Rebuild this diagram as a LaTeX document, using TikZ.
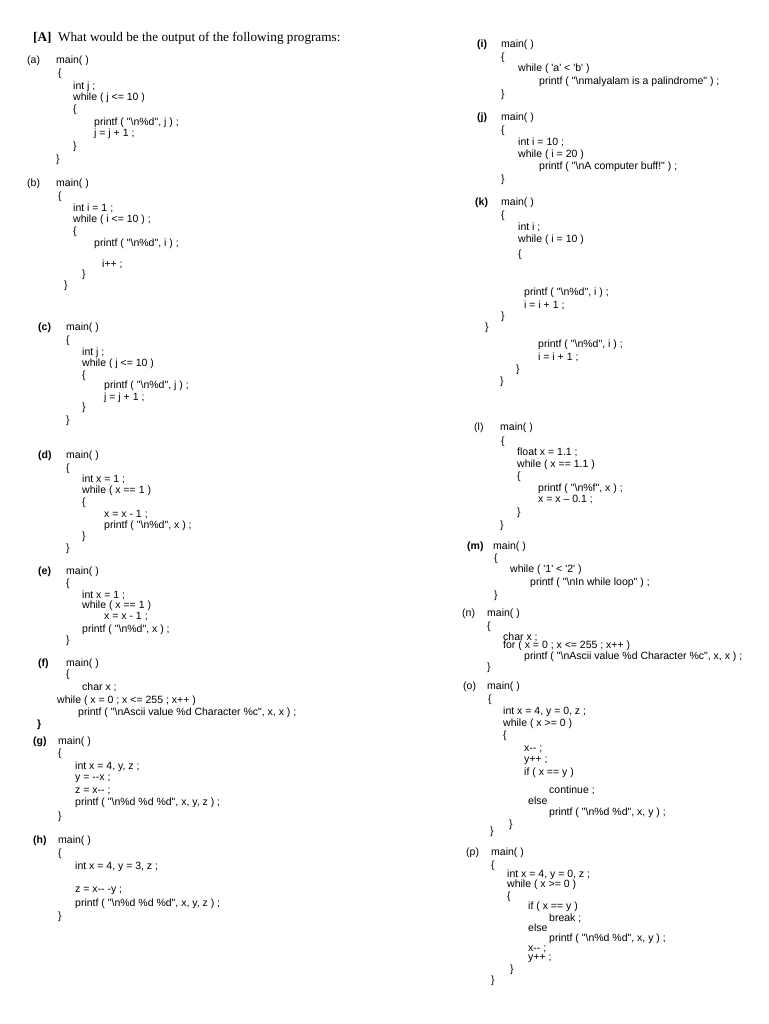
\documentclass[tikz,border=0pt]{standalone}
\usepackage{fontspec}
\newfontfamily\cf{Liberation Sans}
\newfontfamily\tf{Liberation Serif}
\newcounter{ln}
\tikzset{code/.style={anchor=west,inner sep=0pt,font=\cf\fontsize{10.5}{12}\selectfont}}
\newcommand\T[3]{\stepcounter{ln}\node[code] (t\arabic{ln}) at (#1,#2) {#3};}
\newcommand\B[3]{\stepcounter{ln}\node[code,font=\cf\bfseries\fontsize{10.5}{12}\selectfont] (t\arabic{ln}) at (#1,#2) {#3};}
\def\bs{\textbackslash}
\begin{document}
\begin{tikzpicture}[x=1pt,y=-1pt]
\useasboundingbox (0,0) rectangle (768,1024);
\fill[white] (0,0) rectangle (768,1024);
\node[anchor=west,inner sep=0pt,font=\tf\fontsize{13.2}{15}\selectfont] (title) at (33,38) {\textbf{[A]}\ \ What would be the output of the following programs:};
% (a)
\T{27}{61}{(a)}\T{56}{61}{main( )}
\T{58}{74}{\{}\T{73}{87}{int j ;}\T{73}{98}{while ( j <= 10 )}\T{73}{110}{\{}
\T{94}{123}{printf ( "\bs n\%d", j ) ;}\T{94}{134}{j = j + 1 ;}\T{73}{147}{\}}\T{56}{160}{\}}
% (b)
\T{27}{184}{(b)}\T{56}{184}{main( )}
\T{58}{197}{\{}\T{73}{208}{int i = 1 ;}\T{73}{220}{while ( i <= 10 ) ;}\T{73}{232}{\{}
\T{94}{244}{printf ( "\bs n\%d", i ) ;}\T{102}{264}{i++ ;}\T{82}{275}{\}}\T{64}{286}{\}}
% (c)
\B{38}{328}{(c)}\T{66}{328}{main( )}
\T{66}{341}{\{}\T{82}{353}{int j ;}\T{82}{364}{while ( j <= 10 )}\T{82}{376}{\{}
\T{104}{386}{printf ( "\bs n\%d", j ) ;}\T{104}{398}{j = j + 1 ;}\T{82}{408}{\}}\T{66}{421}{\}}
% (d)
\B{38}{456}{(d)}\T{66}{456}{main( )}
\T{66}{469}{\{}\T{82}{479}{int  x = 1 ;}\T{82}{491}{while ( x == 1 )}\T{82}{503}{\{}
\T{104}{515}{x = x - 1 ;}\T{104}{526}{printf ( "\bs n\%d", x ) ;}\T{82}{537}{\}}\T{66}{549}{\}}
% (e)
\B{38}{572}{(e)}\T{66}{572}{main( )}
\T{66}{584}{\{}\T{82}{595}{int  x = 1 ;}\T{82}{606}{while ( x == 1 )}
\T{104}{617}{x = x - 1 ;}\T{82}{630}{printf ( "\bs n\%d", x ) ;}\T{66}{641}{\}}
% (f)
\B{38}{664}{(f)}\T{66}{664}{main( )}
\T{66}{675}{\{}\T{82}{687}{char  x ;}\T{57}{701}{while ( x = 0 ; x <= 255 ; x++ )}
\T{78}{713}{printf ( "\bs nAscii value \%d Character \%c", x, x ) ;}\B{37}{725}{\}}
% (g)
\B{33}{742}{(g)}\T{58}{742}{main( )}
\T{58}{754}{\{}\T{75}{767}{int  x = 4, y, z ;}\T{75}{779}{y = --x ;}\T{75}{791}{z = x-- ;}
\T{75}{803}{printf ( "\bs n\%d \%d \%d", x, y, z ) ;}\T{58}{817}{\}}
% (h)
\B{33}{841}{(h)}\T{58}{841}{main( )}
\T{58}{854}{\{}\T{75}{867}{int  x = 4, y = 3, z ;}\T{75}{891}{z = x-- -y ;}
\T{75}{904}{printf ( "\bs n\%d \%d \%d", x, y, z ) ;}\T{58}{917}{\}}
% (i)
\B{477}{45}{(i)}\T{501}{45}{main( )}
\T{501}{58}{\{}\T{518}{69}{while ( 'a' < 'b' )}
\T{539}{82}{printf ( "\bs nmalyalam is a palindrome" ) ;}\T{501}{95}{\}}
% (j)
\B{477}{118}{(j)}\T{501}{118}{main( )}
\T{501}{131}{\{}\T{518}{142}{int  i = 10 ;}\T{518}{155}{while ( i = 20 )}
\T{539}{167}{printf ( "\bs nA computer buff!" ) ;}\T{501}{180}{\}}
% (k)
\B{475}{203}{(k)}\T{501}{203}{main( )}
\T{501}{216}{\{}\T{518}{227}{int  i ;}\T{518}{240}{while ( i = 10 )}\T{518}{255}{\{}
\T{524}{293}{printf ( "\bs n\%d", i ) ;}\T{524}{305}{i = i + 1 ;}\T{501}{317}{\}}\T{485}{328}{\}}
\T{538}{345}{printf ( "\bs n\%d", i ) ;}\T{538}{357}{i = i + 1 ;}\T{516}{370}{\}}\T{500}{382}{\}}
% (l)
\T{474}{428}{(l)}\T{500}{428}{main( )}
\T{501}{442}{\{}\T{517}{452}{float  x = 1.1 ;}\T{517}{465}{while ( x == 1.1 )}\T{517}{477}{\{}
\T{538}{489}{printf ( "\bs n\%f", x ) ;}\T{538}{500}{x = x \textendash\ 0.1 ;}\T{517}{513}{\}}\T{500}{526}{\}}
% (m)
\B{467}{547}{(m)}\T{493}{547}{main( )}
\T{494}{559}{\{}\T{510}{570}{while ( '1' < '2' )}
\T{530}{583}{printf ( "\bs nIn while loop" ) ;}\T{494}{596}{\}}
% (n)
\T{462}{614}{(n)}\T{487}{614}{main( )}
\T{487}{627}{\{}\T{503}{637}{char  x ;}\T{503}{646}{for ( x = 0 ; x <= 255 ; x++ )}
\T{524}{657}{printf ( "\bs nAscii value \%d Character \%c", x, x ) ;}\T{487}{668}{\}}
% (o)
\T{463}{687}{(o)}\T{487}{687}{main( )}
\T{488}{700}{\{}\T{503}{712}{int  x = 4, y = 0, z ;}\T{503}{724}{while ( x >= 0 )}\T{503}{736}{\{}
\T{524}{749}{x-- ;}\T{524}{761}{y++ ;}\T{524}{773}{if ( x == y )}
\T{549}{790}{continue ;}\T{528}{801}{else}\T{549}{813}{printf ( "\bs n\%d \%d", x, y ) ;}
\T{509}{825}{\}}\T{490}{832}{\}}
% (p)
\T{466}{853}{(p)}\T{491}{853}{main( )}
\T{491}{866}{\{}\T{507}{875}{int  x = 4, y = 0, z ;}\T{507}{885}{while ( x >= 0 )}\T{507}{897}{\{}
\T{528}{907}{if ( x == y )}\T{549}{918}{break ;}\T{528}{928}{else}
\T{549}{939}{printf ( "\bs n\%d \%d", x, y ) ;}\T{528}{949}{x-- ;}\T{528}{959}{y++ ;}
\T{510}{970}{\}}\T{491}{981}{\}}
\end{tikzpicture}
\end{document}
